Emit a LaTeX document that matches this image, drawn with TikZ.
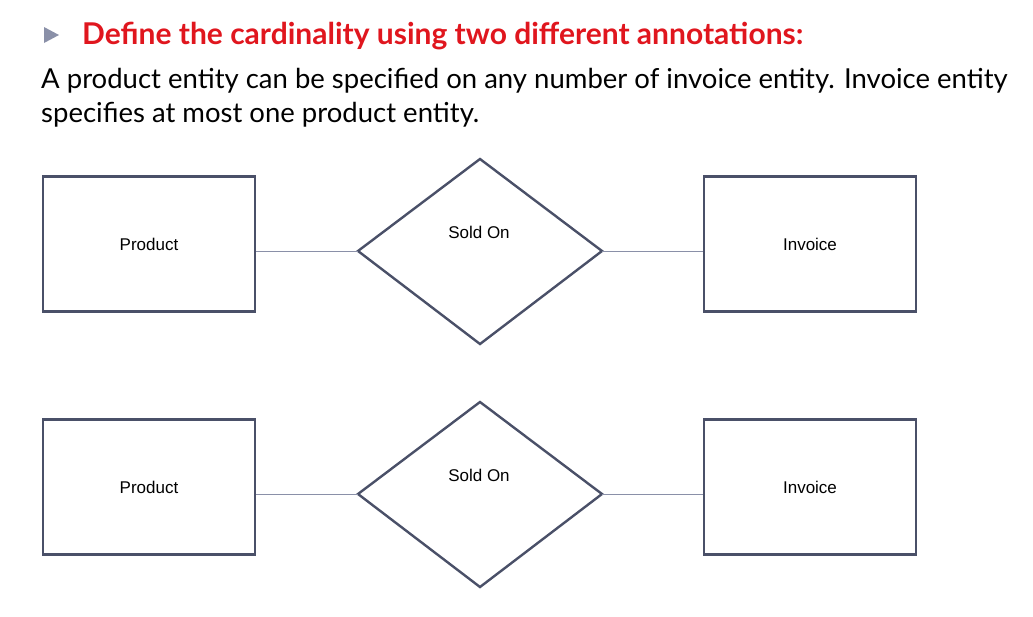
\documentclass[tikz,border=0pt]{standalone}
\usepackage{fontspec}
\setmainfont{Lato}
\newfontfamily\arial{Liberation Sans}
\definecolor{edge}{HTML}{4A5068}
\definecolor{conn}{HTML}{8A90A8}
\definecolor{titred}{HTML}{E0161E}
\tikzset{ent/.style={draw=edge,line width=2.4pt,minimum width=212pt,minimum height=135pt,font=\arial\fontsize{17}{19}\selectfont},
 rel/.style={draw=edge,line width=2.4pt},
 lbl/.style={font=\arial\fontsize{17}{19}\selectfont},
 link/.style={draw=conn,line width=1pt}}
\begin{document}
\begin{tikzpicture}[x=1pt,y=-1pt]
\useasboundingbox (0,0) rectangle (1033,616);
\fill[conn] (44,27) -- (44,43) -- (59,35) -- cycle;
\node[anchor=west,text=titred,font=\bfseries\fontsize{30}{34}\selectfont,inner sep=0] (title) at (82,36) {Define the cardinality using two different annotations:};
\node[anchor=north west,align=left,font=\fontsize{27.5}{34}\selectfont,inner sep=0] (body) at (41,68) {A product entity can be specified on any number of invoice entity. Invoice entity\\specifies at most one product entity.};
\foreach \r/\y in {a/251,b/494}{
 \node[ent] (p\r) at (149,\y-7) {Product};
 \node[ent] (i\r) at (810,\y-7) {Invoice};
 \coordinate (dl\r) at (358,\y);
 \coordinate (dr\r) at (602,\y);
 \coordinate (dt\r) at (480,\y-92);
 \coordinate (db\r) at (480,\y+93);
 \draw[rel,line join=miter] (dl\r) -- (dt\r) -- (dr\r) -- (db\r) -- cycle;
 \node[lbl] (s\r) at (479,\y-19) {Sold On};
 \draw[link] (p\r.east |- dl\r) -- (dl\r);
 \draw[link] (dr\r) -- (i\r.west |- dr\r);
}
\end{tikzpicture}
\end{document}
